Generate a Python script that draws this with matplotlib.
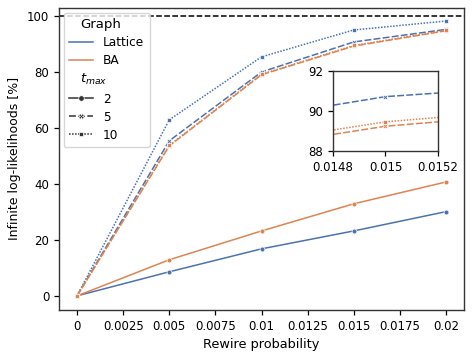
import matplotlib
matplotlib.use("Agg")
import matplotlib.pyplot as plt
from matplotlib.lines import Line2D

rewire = [0, 0.005, 0.01, 0.015, 0.02]
graphs = ["Lattice", "BA"]
tmax_values = [2, 5, 10]

lattice_t2 = [0, 8.6, 16.8, 23.2, 30.1]
lattice_t5 = [0, 55.4, 80.0, 90.72, 95.2]
lattice_t10 = [0, 62.9, 85.4, 95.0, 98.2]
ba_t2 = [0, 12.9, 23.2, 32.9, 40.7]
ba_t5 = [0, 53.6, 79.0, 89.24, 94.7]
ba_t10 = [0, 53.8, 79.2, 89.46, 94.9]

series = {
    ("Lattice", 2): lattice_t2,
    ("Lattice", 5): lattice_t5,
    ("Lattice", 10): lattice_t10,
    ("BA", 2): ba_t2,
    ("BA", 5): ba_t5,
    ("BA", 10): ba_t10,
}

colors = {"Lattice": "#4C72B0", "BA": "#DD8452"}
dashes = {2: "-", 5: (0, (4.5, 1.5)), 10: (0, (1, 1))}
markers = {2: "o", 5: "X", 10: (4, 0, 45)}

plt.rcParams["font.family"] = "DejaVu Sans"
fig = plt.figure(figsize=(4.74, 3.57), dpi=100)
ax = fig.add_axes([0.1245, 0.132, 0.8545, 0.846])

def draw(a, ms):
    for g in graphs:
        for t in tmax_values:
            a.plot(rewire, series[(g, t)], color=colors[g], linestyle=dashes[t],
                   linewidth=1.1, marker=markers[t], markersize=ms,
                   markeredgecolor="white", markeredgewidth=0.5)

draw(ax, 3.5)
ax.axhline(100, color="black", linestyle="--", linewidth=1.1, zorder=0)
ax.set_xlim(-0.000976, 0.020976)
ax.set_ylim(-5, 102.9)
xt = [0, 0.0025, 0.005, 0.0075, 0.01, 0.0125, 0.015, 0.0175, 0.02]
ax.set_xticks(xt)
ax.set_xticklabels(["%g" % v for v in xt])
ax.set_yticks([0, 20, 40, 60, 80, 100])
ax.tick_params(labelsize=8.5, length=3.5, width=0.9)
for s in ax.spines.values():
    s.set_linewidth(1.0)
    s.set_color("#333333")
ax.set_xlabel("Rewire probability", fontsize=9.3)
ax.set_ylabel("Infinite log-likelihoods [%]", fontsize=9)

handles = [
    Line2D([], [], linestyle="none", label="Graph"),
    Line2D([], [], color=colors["Lattice"], linewidth=1.1, label="Lattice"),
    Line2D([], [], color=colors["BA"], linewidth=1.1, label="BA"),
    Line2D([], [], linestyle="none", label="$t_{max}$"),
]
for t in tmax_values:
    handles.append(Line2D([], [], color="#333333", linestyle=dashes[t], linewidth=1.1,
                          marker=markers[t], markersize=4, markeredgecolor="white",
                          markeredgewidth=0.5, label=str(t)))
leg = ax.legend(handles=handles, loc="upper left", fontsize=8.7, frameon=True,
                handlelength=2.0, borderaxespad=0.4, labelspacing=0.42,
                borderpad=0.45)
for txt, h in zip(leg.get_texts(), handles):
    if h.get_label() in ("Graph", "$t_{max}$"):
        txt.set_fontsize(9.5)
        txt.set_x(-23)

ins = fig.add_axes([0.7025, 0.577, 0.2215, 0.224])
draw(ins, 3.5)
ins.set_xlim(0.0148, 0.0152)
ins.set_ylim(88, 92)
ins.set_xticks([0.0148, 0.015, 0.0152])
ins.set_xticklabels(["0.0148", "0.015", "0.0152"])
ins.set_yticks([88, 90, 92])
ins.tick_params(labelsize=8.5, length=3.5, width=0.9)
for s in ins.spines.values():
    s.set_linewidth(1.0)
    s.set_color("#333333")

fig.savefig("out.png", dpi=100)
